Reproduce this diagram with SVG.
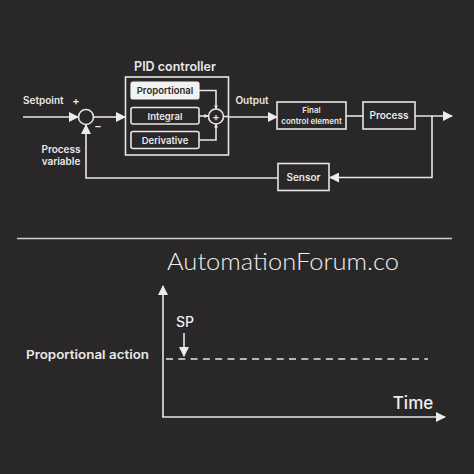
<svg xmlns="http://www.w3.org/2000/svg" width="474" height="474" viewBox="0 0 474 474">
<defs>
<style>
.bg{fill:#2a2728}
.box{fill:none;stroke:#e6e6e6;stroke-width:1.6}
.ln{fill:none;stroke:#e6e6e6;stroke-width:1.6}
.t{font-family:Inter,"Liberation Sans",sans-serif;font-weight:600;fill:#e8e8e8}
</style>
<marker id="ahs" viewBox="0 0 10 10" refX="9" refY="5" markerWidth="4" markerHeight="4" orient="auto" markerUnits="userSpaceOnUse">
<path d="M0,0 L10,5 L0,10 z" fill="#ececec"/>
</marker>
<marker id="ahb" viewBox="0 0 10 10" refX="9" refY="5" markerWidth="10" markerHeight="10" orient="auto" markerUnits="userSpaceOnUse">
<path d="M0,0 L10,5 L0,10 z" fill="#ececec"/>
</marker>
</defs>
<rect class="bg" x="0" y="0" width="474" height="474"/>

<g id="connectors">
<line class="ln" x1="23" y1="117" x2="78" y2="117" marker-end="url(#ahb)"/>
<line class="ln" x1="94" y1="117" x2="125" y2="117" marker-end="url(#ahb)"/>
<polyline class="ln" points="199,90.5 216,90.5 216,109" marker-end="url(#ahs)"/>
<line class="ln" x1="199" y1="116" x2="208" y2="116" marker-end="url(#ahs)"/>
<polyline class="ln" points="199,140 216,140 216,124" marker-end="url(#ahs)"/>
<line class="ln" x1="224" y1="116.5" x2="229" y2="116.5"/>
<line class="ln" x1="229" y1="117" x2="277" y2="117" marker-end="url(#ahb)"/>
<line class="ln" x1="346" y1="116" x2="363" y2="116"/>
<line class="ln" x1="415" y1="116" x2="452" y2="116" marker-end="url(#ahb)"/>
<polyline class="ln" points="432,116 432,177.5 330,177.5" marker-end="url(#ahb)"/>
<polyline class="ln" points="278,178 86,178 86,125" marker-end="url(#ahb)"/>
</g>

<g id="setpoint-label">
<text class="t" x="23" y="104" font-size="10">Setpoint</text>
<text class="t" x="76" y="105" font-size="11" text-anchor="middle">+</text>
<text class="t" x="98" y="130" font-size="11" text-anchor="middle">−</text>
</g>
<g id="process-variable-label">
<text class="t" x="61" y="153" font-size="10" text-anchor="middle">Process</text>
<text class="t" x="61" y="165" font-size="10" text-anchor="middle">variable</text>
</g>

<g id="sum1">
<circle class="box" cx="86" cy="117" r="7.5"/>
</g>

<g id="pid-controller">
<text class="t" x="175" y="71" font-size="12.5" text-anchor="middle">PID controller</text>
<rect class="box" x="125.5" y="77" width="103" height="78"/>
</g>
<g id="proportional">
<rect x="131" y="82" width="68" height="17" rx="2" fill="#f2f2f2" stroke="#f2f2f2" stroke-width="1.2"/>
<text class="t" x="165" y="94" font-size="9.5" text-anchor="middle" style="fill:#2a2728">Proportional</text>
</g>
<g id="integral">
<rect class="box" x="131" y="107.5" width="68" height="16.5" rx="2"/>
<text class="t" x="165" y="119.5" font-size="9.5" text-anchor="middle">Integral</text>
</g>
<g id="derivative">
<rect class="box" x="131" y="131.5" width="68" height="17" rx="2"/>
<text class="t" x="165" y="143.5" font-size="9.5" text-anchor="middle">Derivative</text>
</g>
<g id="sum2">
<circle class="box" cx="216" cy="116.5" r="7.5"/>
<text class="t" x="216" y="120.5" font-size="11" text-anchor="middle">+</text>
</g>

<g id="output-label">
<text class="t" x="252" y="104" font-size="10" text-anchor="middle">Output</text>
</g>
<g id="final-control-element">
<rect class="box" x="277" y="102" width="69" height="27"/>
<text class="t" x="311.5" y="113" font-size="8" text-anchor="middle" font-weight="500">Final</text>
<text class="t" x="311.5" y="124" font-size="8" text-anchor="middle" font-weight="500">control element</text>
</g>
<g id="process">
<rect class="box" x="363" y="102" width="52" height="27"/>
<text class="t" x="389" y="119" font-size="10" text-anchor="middle">Process</text>
</g>
<g id="sensor">
<rect class="box" x="278" y="163.5" width="51" height="27"/>
<text class="t" x="303.5" y="180.5" font-size="10" text-anchor="middle">Sensor</text>
</g>

<line x1="17" y1="238.5" x2="452" y2="238.5" stroke="#cfcfcf" stroke-width="1.6"/>
<text x="167" y="270" font-family="Lato,'Noto Sans',sans-serif" font-weight="300" font-size="24" fill="#efefef" textLength="232" lengthAdjust="spacingAndGlyphs">AutomationForum.co</text>

<g id="chart">
<line class="ln" x1="163" y1="417" x2="163" y2="286" marker-end="url(#ahb)"/>
<line class="ln" x1="162.2" y1="417" x2="445" y2="417" marker-end="url(#ahb)"/>
<line class="ln" x1="166" y1="359" x2="428" y2="359" stroke-dasharray="7,5.3"/>
<line class="ln" x1="184" y1="333" x2="184" y2="356" marker-end="url(#ahb)"/>
<text x="185" y="327" font-family="Inter,'Liberation Sans',sans-serif" font-weight="500" font-size="14" fill="#efefef" text-anchor="middle">SP</text>
<text x="413" y="409" font-family="Inter,'Liberation Sans',sans-serif" font-weight="500" font-size="17" fill="#efefef" text-anchor="middle">Time</text>
<text class="t" x="26" y="359" font-size="12" textLength="123" lengthAdjust="spacingAndGlyphs">Proportional action</text>
</g>
</svg>
